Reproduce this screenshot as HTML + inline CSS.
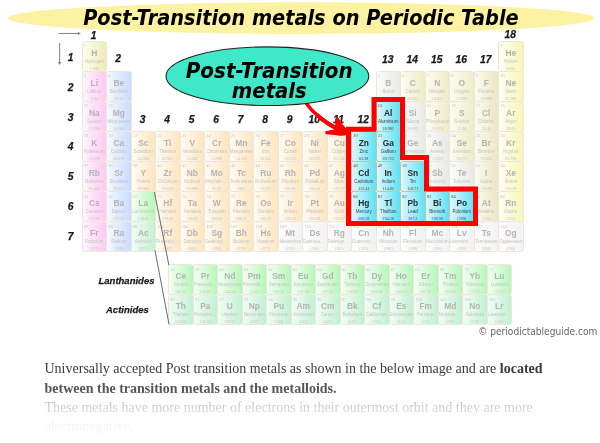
<!DOCTYPE html>
<html><head><meta charset="utf-8"><title>Post-Transition metals on Periodic Table</title>
<style>
html,body{margin:0;padding:0;background:#fff;width:600px;height:443px;overflow:hidden;position:relative}
body{font-family:"Liberation Sans",Arial,sans-serif}
.c{position:absolute;width:25.5px;height:31.05px;box-sizing:border-box;border:1px solid #ebe7dc;border-radius:2.5px;overflow:hidden;color:#c4c4c4}
.c i,.c b,.c u,.c s{position:absolute;left:0;right:0;text-decoration:none;font-style:normal;white-space:nowrap;text-align:center}
.c i{left:1.3px;text-align:left;top:2.6px;font:4.4px/4px "Liberation Serif",serif}
.c b{top:7.1px;font:bold 8.4px/8px "Liberation Sans",sans-serif;color:#b4b4b4}
.c u{top:17.2px;font:4.5px/5px "Liberation Sans",sans-serif;overflow:hidden;text-overflow:ellipsis;letter-spacing:-0.06px}
.c s{top:24.9px;font:4.1px/4px "Liberation Serif",serif}
.h{background:linear-gradient(90deg,#fefee9,#eeecbb)}
.alk{background:linear-gradient(90deg,#fff4fc,#ffc9f3)}
.ae{background:linear-gradient(90deg,#f5f8ff,#c9dcfc)}
.tm{background:linear-gradient(90deg,#fffbf2,#fde5bf)}
.pt{background:linear-gradient(90deg,#def7fb,#5ee2f6);border-color:#c9c3a5;color:#444}
.pt b{color:#2b2b2b}
.md{background:linear-gradient(90deg,#fbfbf9,#e9e9e6)}
.nm{background:linear-gradient(90deg,#fcfcf1,#eeecc6)}
.hal{background:linear-gradient(90deg,#fcfbf1,#ece6c3)}
.ng{background:linear-gradient(90deg,#fefef1,#f6f6b8)}
.unk{background:linear-gradient(90deg,#fcfcfc,#f2f2f2)}
.lan{background:linear-gradient(90deg,#f3fff3,#b7f7b9)}
.act{background:linear-gradient(90deg,#f1fcf5,#c3f0d3)}
.g{position:absolute;width:20px;height:12px;text-align:center;font:italic bold 10.3px/12px "Liberation Sans",sans-serif;color:#1a1a1a;-webkit-text-stroke:0.25px #1a1a1a}
#title{position:absolute;left:0;top:0}
.lbl{position:absolute;font:italic bold 9.5px/12px "Liberation Sans",sans-serif;color:#1a1a1a;-webkit-text-stroke:0.25px #1a1a1a;white-space:nowrap}
#copy{position:absolute;left:478.3px;top:326px;font:10.1px/12px "DejaVu Sans Condensed","DejaVu Sans",sans-serif;color:#666;white-space:nowrap}
#txt{position:absolute;left:44.5px;top:359.3px;width:540px;font:14px/19.25px "Liberation Serif",serif;color:#3a3a3a}
#txt p{margin:0}
</style></head><body>
<svg width="600" height="443" style="position:absolute;left:0;top:0">
<ellipse cx="301.2" cy="18.1" rx="293.4" ry="15.8" fill="#fdf2a2"/>
<text x="83.2" y="25" font-family="DejaVu Sans, sans-serif" font-weight="bold" font-style="italic" font-size="21.6" fill="#000" textLength="435.5" lengthAdjust="spacingAndGlyphs">Post-Transition metals on Periodic Table</text>
<line x1="58.5" y1="33.5" x2="79.5" y2="33.5" stroke="#858585" stroke-width="1"/>
<path d="M77.8 31.8 L80.8 33.5 L77.8 35.2Z" fill="#858585"/>
<line x1="59.6" y1="43" x2="59.6" y2="63.5" stroke="#858585" stroke-width="1"/>
<path d="M57.9 62 L59.6 65 L61.3 62Z" fill="#858585"/>
</svg>
<div class="c h" style="left:81.50px;top:40.70px"><i>1</i><b>H</b><u>Hydrogen</u><s>1.008</s></div>
<div class="c ng" style="left:498.00px;top:40.70px"><i>2</i><b>He</b><u>Helium</u><s>4.002</s></div>
<div class="c alk" style="left:81.50px;top:70.75px"><i>3</i><b>Li</b><u>Lithium</u><s>6.94</s></div>
<div class="c ae" style="left:106.00px;top:70.75px"><i>4</i><b>Be</b><u>Beryllium</u><s>9.012</s></div>
<div class="c md" style="left:375.50px;top:70.75px"><i>5</i><b>B</b><u>Boron</u><s>10.81</s></div>
<div class="c nm" style="left:400.00px;top:70.75px"><i>6</i><b>C</b><u>Carbon</u><s>12.011</s></div>
<div class="c nm" style="left:424.50px;top:70.75px"><i>7</i><b>N</b><u>Nitrogen</u><s>14.007</s></div>
<div class="c nm" style="left:449.00px;top:70.75px"><i>8</i><b>O</b><u>Oxygen</u><s>15.999</s></div>
<div class="c hal" style="left:473.50px;top:70.75px"><i>9</i><b>F</b><u>Fluorine</u><s>18.998</s></div>
<div class="c ng" style="left:498.00px;top:70.75px"><i>10</i><b>Ne</b><u>Neon</u><s>20.180</s></div>
<div class="c alk" style="left:81.50px;top:100.80px"><i>11</i><b>Na</b><u>Sodium</u><s>22.990</s></div>
<div class="c ae" style="left:106.00px;top:100.80px"><i>12</i><b>Mg</b><u>Magnesium</u><s>24.305</s></div>
<div class="c pt" style="left:375.50px;top:100.80px"><i>13</i><b>Al</b><u>Aluminium</u><s>26.982</s></div>
<div class="c md" style="left:400.00px;top:100.80px"><i>14</i><b>Si</b><u>Silicon</u><s>28.085</s></div>
<div class="c nm" style="left:424.50px;top:100.80px"><i>15</i><b>P</b><u>Phosphorus</u><s>30.974</s></div>
<div class="c nm" style="left:449.00px;top:100.80px"><i>16</i><b>S</b><u>Sulphur</u><s>32.06</s></div>
<div class="c hal" style="left:473.50px;top:100.80px"><i>17</i><b>Cl</b><u>Chlorine</u><s>35.45</s></div>
<div class="c ng" style="left:498.00px;top:100.80px"><i>18</i><b>Ar</b><u>Argon</u><s>39.95</s></div>
<div class="c alk" style="left:81.50px;top:130.85px"><i>19</i><b>K</b><u>Potassium</u><s>39.098</s></div>
<div class="c ae" style="left:106.00px;top:130.85px"><i>20</i><b>Ca</b><u>Calcium</u><s>40.078</s></div>
<div class="c tm" style="left:130.50px;top:130.85px"><i>21</i><b>Sc</b><u>Scandium</u><s>44.956</s></div>
<div class="c tm" style="left:155.00px;top:130.85px"><i>22</i><b>Ti</b><u>Titanium</u><s>47.867</s></div>
<div class="c tm" style="left:179.50px;top:130.85px"><i>23</i><b>V</b><u>Vanadium</u><s>50.942</s></div>
<div class="c tm" style="left:204.00px;top:130.85px"><i>24</i><b>Cr</b><u>Chromium</u><s>51.996</s></div>
<div class="c tm" style="left:228.50px;top:130.85px"><i>25</i><b>Mn</b><u>Manganese</u><s>54.938</s></div>
<div class="c tm" style="left:253.00px;top:130.85px"><i>26</i><b>Fe</b><u>Iron</u><s>55.845</s></div>
<div class="c tm" style="left:277.50px;top:130.85px"><i>27</i><b>Co</b><u>Cobalt</u><s>58.933</s></div>
<div class="c tm" style="left:302.00px;top:130.85px"><i>28</i><b>Ni</b><u>Nickel</u><s>58.693</s></div>
<div class="c tm" style="left:326.50px;top:130.85px"><i>29</i><b>Cu</b><u>Copper</u><s>63.546</s></div>
<div class="c pt" style="left:351.00px;top:130.85px"><i>30</i><b>Zn</b><u>Zinc</u><s>65.38</s></div>
<div class="c pt" style="left:375.50px;top:130.85px"><i>31</i><b>Ga</b><u>Gallium</u><s>69.723</s></div>
<div class="c md" style="left:400.00px;top:130.85px"><i>32</i><b>Ge</b><u>Germanium</u><s>72.630</s></div>
<div class="c md" style="left:424.50px;top:130.85px"><i>33</i><b>As</b><u>Arsenic</u><s>74.922</s></div>
<div class="c nm" style="left:449.00px;top:130.85px"><i>34</i><b>Se</b><u>Selenium</u><s>78.971</s></div>
<div class="c hal" style="left:473.50px;top:130.85px"><i>35</i><b>Br</b><u>Bromine</u><s>79.904</s></div>
<div class="c ng" style="left:498.00px;top:130.85px"><i>36</i><b>Kr</b><u>Krypton</u><s>83.798</s></div>
<div class="c alk" style="left:81.50px;top:160.90px"><i>37</i><b>Rb</b><u>Rubidium</u><s>85.468</s></div>
<div class="c ae" style="left:106.00px;top:160.90px"><i>38</i><b>Sr</b><u>Strontium</u><s>87.62</s></div>
<div class="c tm" style="left:130.50px;top:160.90px"><i>39</i><b>Y</b><u>Yttrium</u><s>88.906</s></div>
<div class="c tm" style="left:155.00px;top:160.90px"><i>40</i><b>Zr</b><u>Zirconium</u><s>91.224</s></div>
<div class="c tm" style="left:179.50px;top:160.90px"><i>41</i><b>Nb</b><u>Niobium</u><s>92.906</s></div>
<div class="c tm" style="left:204.00px;top:160.90px"><i>42</i><b>Mo</b><u>Molybdenum</u><s>95.95</s></div>
<div class="c tm" style="left:228.50px;top:160.90px"><i>43</i><b>Tc</b><u>Technetium</u><s>(98)</s></div>
<div class="c tm" style="left:253.00px;top:160.90px"><i>44</i><b>Ru</b><u>Ruthenium</u><s>101.07</s></div>
<div class="c tm" style="left:277.50px;top:160.90px"><i>45</i><b>Rh</b><u>Rhodium</u><s>102.91</s></div>
<div class="c tm" style="left:302.00px;top:160.90px"><i>46</i><b>Pd</b><u>Palladium</u><s>106.42</s></div>
<div class="c tm" style="left:326.50px;top:160.90px"><i>47</i><b>Ag</b><u>Silver</u><s>107.87</s></div>
<div class="c pt" style="left:351.00px;top:160.90px"><i>48</i><b>Cd</b><u>Cadmium</u><s>112.41</s></div>
<div class="c pt" style="left:375.50px;top:160.90px"><i>49</i><b>In</b><u>Indium</u><s>114.82</s></div>
<div class="c pt" style="left:400.00px;top:160.90px"><i>50</i><b>Sn</b><u>Tin</u><s>118.71</s></div>
<div class="c md" style="left:424.50px;top:160.90px"><i>51</i><b>Sb</b><u>Antimony</u><s>121.76</s></div>
<div class="c md" style="left:449.00px;top:160.90px"><i>52</i><b>Te</b><u>Tellurium</u><s>127.60</s></div>
<div class="c hal" style="left:473.50px;top:160.90px"><i>53</i><b>I</b><u>Iodine</u><s>126.90</s></div>
<div class="c ng" style="left:498.00px;top:160.90px"><i>54</i><b>Xe</b><u>Xenon</u><s>131.29</s></div>
<div class="c alk" style="left:81.50px;top:190.95px"><i>55</i><b>Cs</b><u>Caesium</u><s>132.91</s></div>
<div class="c ae" style="left:106.00px;top:190.95px"><i>56</i><b>Ba</b><u>Barium</u><s>137.33</s></div>
<div class="c lan" style="left:130.50px;top:190.95px"><i>57</i><b>La</b><u>Lanthanum</u><s>138.91</s></div>
<div class="c lan" style="left:168.00px;top:264.30px"><i>58</i><b>Ce</b><u>Cerium</u><s>140.12</s></div>
<div class="c lan" style="left:192.50px;top:264.30px"><i>59</i><b>Pr</b><u>Praseodymium</u><s>140.91</s></div>
<div class="c lan" style="left:217.00px;top:264.30px"><i>60</i><b>Nd</b><u>Neodymium</u><s>144.24</s></div>
<div class="c lan" style="left:241.50px;top:264.30px"><i>61</i><b>Pm</b><u>Promethium</u><s>(145)</s></div>
<div class="c lan" style="left:266.00px;top:264.30px"><i>62</i><b>Sm</b><u>Samarium</u><s>150.36</s></div>
<div class="c lan" style="left:290.50px;top:264.30px"><i>63</i><b>Eu</b><u>Europium</u><s>151.96</s></div>
<div class="c lan" style="left:315.00px;top:264.30px"><i>64</i><b>Gd</b><u>Gadolinium</u><s>157.25</s></div>
<div class="c lan" style="left:339.50px;top:264.30px"><i>65</i><b>Tb</b><u>Terbium</u><s>158.93</s></div>
<div class="c lan" style="left:364.00px;top:264.30px"><i>66</i><b>Dy</b><u>Dysprosium</u><s>162.50</s></div>
<div class="c lan" style="left:388.50px;top:264.30px"><i>67</i><b>Ho</b><u>Holmium</u><s>164.93</s></div>
<div class="c lan" style="left:413.00px;top:264.30px"><i>68</i><b>Er</b><u>Erbium</u><s>167.26</s></div>
<div class="c lan" style="left:437.50px;top:264.30px"><i>69</i><b>Tm</b><u>Thulium</u><s>168.93</s></div>
<div class="c lan" style="left:462.00px;top:264.30px"><i>70</i><b>Yb</b><u>Ytterbium</u><s>173.05</s></div>
<div class="c lan" style="left:486.50px;top:264.30px"><i>71</i><b>Lu</b><u>Lutetium</u><s>174.97</s></div>
<div class="c tm" style="left:155.00px;top:190.95px"><i>72</i><b>Hf</b><u>Hafnium</u><s>178.49</s></div>
<div class="c tm" style="left:179.50px;top:190.95px"><i>73</i><b>Ta</b><u>Tantalum</u><s>180.95</s></div>
<div class="c tm" style="left:204.00px;top:190.95px"><i>74</i><b>W</b><u>Tungsten</u><s>183.84</s></div>
<div class="c tm" style="left:228.50px;top:190.95px"><i>75</i><b>Re</b><u>Rhenium</u><s>186.21</s></div>
<div class="c tm" style="left:253.00px;top:190.95px"><i>76</i><b>Os</b><u>Osmium</u><s>190.23</s></div>
<div class="c tm" style="left:277.50px;top:190.95px"><i>77</i><b>Ir</b><u>Iridium</u><s>192.22</s></div>
<div class="c tm" style="left:302.00px;top:190.95px"><i>78</i><b>Pt</b><u>Platinum</u><s>195.08</s></div>
<div class="c tm" style="left:326.50px;top:190.95px"><i>79</i><b>Au</b><u>Gold</u><s>196.97</s></div>
<div class="c pt" style="left:351.00px;top:190.95px"><i>80</i><b>Hg</b><u>Mercury</u><s>200.59</s></div>
<div class="c pt" style="left:375.50px;top:190.95px"><i>81</i><b>Tl</b><u>Thallium</u><s>204.38</s></div>
<div class="c pt" style="left:400.00px;top:190.95px"><i>82</i><b>Pb</b><u>Lead</u><s>207.2</s></div>
<div class="c pt" style="left:424.50px;top:190.95px"><i>83</i><b>Bi</b><u>Bismuth</u><s>208.98</s></div>
<div class="c pt" style="left:449.00px;top:190.95px"><i>84</i><b>Po</b><u>Polonium</u><s>(209)</s></div>
<div class="c hal" style="left:473.50px;top:190.95px"><i>85</i><b>At</b><u>Astatine</u><s>(210)</s></div>
<div class="c ng" style="left:498.00px;top:190.95px"><i>86</i><b>Rn</b><u>Radon</u><s>(222)</s></div>
<div class="c alk" style="left:81.50px;top:221.00px"><i>87</i><b>Fr</b><u>Francium</u><s>(223)</s></div>
<div class="c ae" style="left:106.00px;top:221.00px"><i>88</i><b>Ra</b><u>Radium</u><s>(226)</s></div>
<div class="c act" style="left:130.50px;top:221.00px"><i>89</i><b>Ac</b><u>Actinium</u><s>(227)</s></div>
<div class="c act" style="left:168.00px;top:294.30px"><i>90</i><b>Th</b><u>Thorium</u><s>232.04</s></div>
<div class="c act" style="left:192.50px;top:294.30px"><i>91</i><b>Pa</b><u>Protactinium</u><s>231.04</s></div>
<div class="c act" style="left:217.00px;top:294.30px"><i>92</i><b>U</b><u>Uranium</u><s>238.03</s></div>
<div class="c act" style="left:241.50px;top:294.30px"><i>93</i><b>Np</b><u>Neptunium</u><s>(237)</s></div>
<div class="c act" style="left:266.00px;top:294.30px"><i>94</i><b>Pu</b><u>Plutonium</u><s>(244)</s></div>
<div class="c act" style="left:290.50px;top:294.30px"><i>95</i><b>Am</b><u>Americium</u><s>(243)</s></div>
<div class="c act" style="left:315.00px;top:294.30px"><i>96</i><b>Cm</b><u>Curium</u><s>(247)</s></div>
<div class="c act" style="left:339.50px;top:294.30px"><i>97</i><b>Bk</b><u>Berkelium</u><s>(247)</s></div>
<div class="c act" style="left:364.00px;top:294.30px"><i>98</i><b>Cf</b><u>Californium</u><s>(251)</s></div>
<div class="c act" style="left:388.50px;top:294.30px"><i>99</i><b>Es</b><u>Einsteinium</u><s>(252)</s></div>
<div class="c act" style="left:413.00px;top:294.30px"><i>100</i><b>Fm</b><u>Fermium</u><s>(257)</s></div>
<div class="c act" style="left:437.50px;top:294.30px"><i>101</i><b>Md</b><u>Mendelevium</u><s>(258)</s></div>
<div class="c act" style="left:462.00px;top:294.30px"><i>102</i><b>No</b><u>Nobelium</u><s>(259)</s></div>
<div class="c act" style="left:486.50px;top:294.30px"><i>103</i><b>Lr</b><u>Lawrencium</u><s>(266)</s></div>
<div class="c tm" style="left:155.00px;top:221.00px"><i>104</i><b>Rf</b><u>Rutherfordium</u><s>(267)</s></div>
<div class="c tm" style="left:179.50px;top:221.00px"><i>105</i><b>Db</b><u>Dubnium</u><s>(268)</s></div>
<div class="c tm" style="left:204.00px;top:221.00px"><i>106</i><b>Sg</b><u>Seaborgium</u><s>(269)</s></div>
<div class="c tm" style="left:228.50px;top:221.00px"><i>107</i><b>Bh</b><u>Bohrium</u><s>(270)</s></div>
<div class="c tm" style="left:253.00px;top:221.00px"><i>108</i><b>Hs</b><u>Hassium</u><s>(277)</s></div>
<div class="c unk" style="left:277.50px;top:221.00px"><i>109</i><b>Mt</b><u>Meitnerium</u><s>(278)</s></div>
<div class="c unk" style="left:302.00px;top:221.00px"><i>110</i><b>Ds</b><u>Darmstadtium</u><s>(281)</s></div>
<div class="c unk" style="left:326.50px;top:221.00px"><i>111</i><b>Rg</b><u>Roentgenium</u><s>(282)</s></div>
<div class="c unk" style="left:351.00px;top:221.00px"><i>112</i><b>Cn</b><u>Copernicium</u><s>(285)</s></div>
<div class="c unk" style="left:375.50px;top:221.00px"><i>113</i><b>Nh</b><u>Nihonium</u><s>(286)</s></div>
<div class="c unk" style="left:400.00px;top:221.00px"><i>114</i><b>Fl</b><u>Flerovium</u><s>(289)</s></div>
<div class="c unk" style="left:424.50px;top:221.00px"><i>115</i><b>Mc</b><u>Moscovium</u><s>(290)</s></div>
<div class="c unk" style="left:449.00px;top:221.00px"><i>116</i><b>Lv</b><u>Livermorium</u><s>(293)</s></div>
<div class="c unk" style="left:473.50px;top:221.00px"><i>117</i><b>Ts</b><u>Tennessine</u><s>(294)</s></div>
<div class="c unk" style="left:498.00px;top:221.00px"><i>118</i><b>Og</b><u>Oganesson</u><s>(294)</s></div>
<div class="g" style="left:83.65px;top:30.20px">1</div>
<div class="g" style="left:108.15px;top:53.00px">2</div>
<div class="g" style="left:132.65px;top:114.30px">3</div>
<div class="g" style="left:157.15px;top:114.30px">4</div>
<div class="g" style="left:181.65px;top:114.30px">5</div>
<div class="g" style="left:206.15px;top:114.30px">6</div>
<div class="g" style="left:230.65px;top:114.30px">7</div>
<div class="g" style="left:255.15px;top:114.30px">8</div>
<div class="g" style="left:279.65px;top:114.30px">9</div>
<div class="g" style="left:304.15px;top:114.30px">10</div>
<div class="g" style="left:328.65px;top:114.30px">11</div>
<div class="g" style="left:353.15px;top:114.30px">12</div>
<div class="g" style="left:377.65px;top:53.70px">13</div>
<div class="g" style="left:402.15px;top:53.70px">14</div>
<div class="g" style="left:426.65px;top:53.70px">15</div>
<div class="g" style="left:451.15px;top:53.70px">16</div>
<div class="g" style="left:475.65px;top:53.70px">17</div>
<div class="g" style="left:500.15px;top:29.30px">18</div>
<div class="g" style="left:60.50px;top:51.80px">1</div>
<div class="g" style="left:60.50px;top:81.65px">2</div>
<div class="g" style="left:60.50px;top:111.50px">3</div>
<div class="g" style="left:60.50px;top:141.35px">4</div>
<div class="g" style="left:60.50px;top:171.20px">5</div>
<div class="g" style="left:60.50px;top:201.05px">6</div>
<div class="g" style="left:60.50px;top:230.90px">7</div>
<div class="lbl" style="left:98.5px;top:275px">Lanthanides</div>
<div class="lbl" style="left:106px;top:303.5px">Actinides</div>
<div id="copy">© periodictableguide.com</div>
<svg width="600" height="443" style="position:absolute;left:0;top:0">
<line x1="154.4" y1="192" x2="168.9" y2="265.3" stroke="#6a6a6a" stroke-width="1"/>
<line x1="155" y1="250.3" x2="169" y2="324.3" stroke="#6a6a6a" stroke-width="1"/>
<path d="M374 99.5 H402.5 V157.5 H426.5 V189 H475.5 V223.5 H348.5 V129.2 H374 Z" fill="none" stroke="#ff0000" stroke-width="5" stroke-linejoin="miter"/>
<path d="M304.4 100.9 Q317.5 119.6 340 130" fill="none" stroke="#ff0000" stroke-width="3.5" stroke-linecap="butt"/>
<path d="M316.4 114.5 Q326.5 123.8 340 130" fill="none" stroke="#ff0000" stroke-width="4.3" stroke-linecap="butt"/>
<path d="M335.8 116.9 Q337.6 116.4 338.7 118.3 Q341.6 124.2 347.8 130.2 L347.8 134.2 Q344 136.2 340 135.7 Q332 134.6 326.6 134.2 Q324.3 133.2 325.6 131.2 Q330 130.4 334.5 129.6 L335.3 126 Q334.5 121 335.8 116.9 Z" fill="#ff0000"/>
<ellipse cx="267.4" cy="76.2" rx="101.4" ry="29.3" fill="#3ee8c8" stroke="#222" stroke-width="1.1"/>
<text x="269.2" y="78" text-anchor="middle" font-family="DejaVu Sans, sans-serif" font-weight="bold" font-style="italic" font-size="21.6" fill="#000" textLength="167" lengthAdjust="spacingAndGlyphs">Post-Transition</text>
<text x="269.3" y="97.5" text-anchor="middle" font-family="DejaVu Sans, sans-serif" font-weight="bold" font-style="italic" font-size="21.6" fill="#000" textLength="75" lengthAdjust="spacingAndGlyphs">metals</text>
</svg>
<div id="txt">
<p>Universally accepted Post transition metals as shown in the below image and are <b>located</b></p>
<p style="color:#555"><b>between the transition metals and the metalloids.</b></p>
<p>These metals have more number of electrons in their outermost orbit and they are more</p>
<p>electronegative.</p>
</div>
<div style="position:absolute;left:0;top:391px;width:600px;height:52px;background:linear-gradient(to bottom,rgba(255,255,255,0) 0px,rgba(255,255,255,.4) 6px,rgba(255,255,255,.68) 10px,rgba(255,255,255,.82) 21px,rgba(255,255,255,.95) 35px,#fff 52px)"></div>
</body></html>
